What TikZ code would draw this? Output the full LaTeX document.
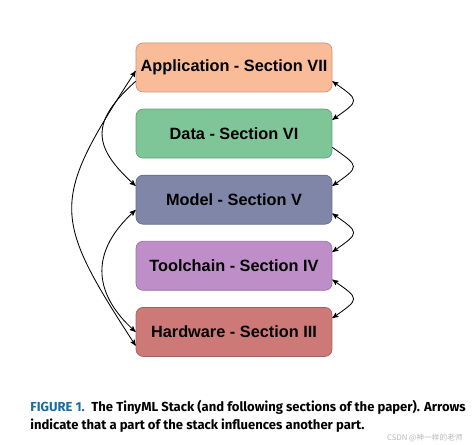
\documentclass[tikz,border=0pt]{standalone}
\usepackage{fontspec}
\setmainfont{Liberation Sans}
\newfontfamily\capfont{Fira Sans}
\newfontfamily\cjkfont{Noto Sans CJK SC}
\usepackage{tikz}
\usetikzlibrary{positioning}
\usetikzlibrary{arrows}
\definecolor{tmApp}  {RGB}{250,187,153}
\definecolor{tmData} {RGB}{126,197,152}
\definecolor{tmModel}{RGB}{128,134,168}
\definecolor{tmTool} {RGB}{190,142,200}
\definecolor{tmHw}   {RGB}{205,121,119}
\definecolor{tmBlue} {RGB}{24,108,158}

\begin{document}
\begin{tikzpicture}
[line width = 0.6pt, >=stealth',
  layer/.style = { draw, line width = 0.5pt, rounded corners = 5pt, minimum width = 4.9cm, minimum height = 1.225cm,
                   font = \bfseries\fontsize{11.6}{14}\selectfont }
]
\useasboundingbox (0,0) rectangle (11.85,11.125);

% Stack layers:
\node[layer, fill = tmApp,   draw = tmApp!80!black]                         (app)   at (5.85,9.4375) {Application - Section VII};
\node[layer, fill = tmData,  draw = tmData!80!black,  below = 0.41cm of app]   (data)  {Data - Section VI};
\node[layer, fill = tmModel, draw = tmModel!80!black, below = 0.41cm of data]  (model) {Model - Section V};
\node[layer, fill = tmTool,  draw = tmTool!80!black,  below = 0.41cm of model] (tool)  {Toolchain - Section IV};
\node[layer, fill = tmHw,    draw = tmHw!80!black,    below = 0.41cm of tool]  (hw)    {Hardware - Section III};

% Arrows on the right, between neighbours:
\draw[<->] (app.-8)   .. controls +(-35:0.85) and +(35:0.85) .. (data.8);
\draw[->]  (data.-8)  .. controls +(-35:0.85) and +(35:0.85) .. (model.8);
\draw[<->] (model.-8) .. controls +(-35:0.85) and +(35:0.85) .. (tool.8);
\draw[<->] (tool.-8)  .. controls +(-35:0.85) and +(35:0.85) .. (hw.8);

% Arrows on the left, skipping layers:
\draw[<->] (app.-178)   .. controls +(237:3.9) and +(123:3.9) .. (hw.-172);
\draw[->]  (app.-172)   .. controls +(222:1.5) and +(138:1.5) .. (model.172);
\draw[<->] (model.-174) .. controls +(222:1.5) and +(138:1.5) .. (hw.west);

% Caption:
\node[anchor = north west, align = left, inner sep = 0pt,
      font = \capfont\bfseries\fontsize{9.3}{13}\selectfont] (caption) at (0.75,1.125)
{
  \textcolor{tmBlue}{FIGURE 1.}\enspace The TinyML Stack (and following sections of the paper). Arrows\\
  indicate that a part of the stack influences another part.
};

% Watermark:
\node[anchor = east, text = gray!55, font = \cjkfont\fontsize{5.5}{7}\selectfont] (mark) at (11.7,0.175) {CSDN @神一样的老师};
\end{tikzpicture}
\end{document}
